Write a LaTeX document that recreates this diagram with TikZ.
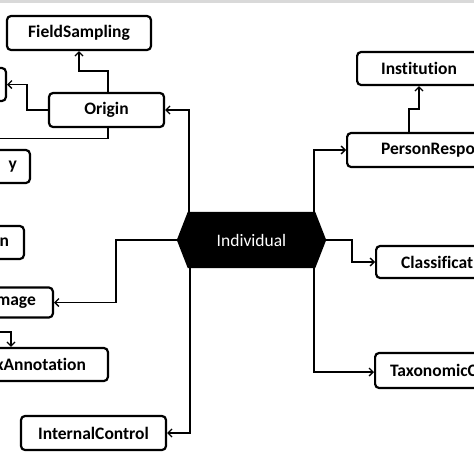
\documentclass[tikz,border=0pt]{standalone}
\usepackage{fontspec}
\setmainfont[Ligatures=NoCommon]{Carlito}
\usetikzlibrary{arrows.meta,calc}
\tikzset{
  box/.style={draw=black, line width=2.2pt, rounded corners=4pt, fill=white,
    font=\fontsize{17.5}{20}\selectfont\bfseries, inner ysep=0pt},
  lbox/.style={box, anchor=east, text width=120pt, align=right},
  rbox/.style={box, anchor=west, text width=150pt, align=left},
  cbox/.style={box, minimum height=34pt},
  conn/.style={draw=black, line width=1.5pt},
  arr/.style={conn, -{Straight Barb[length=4pt,width=8pt,line width=1.3pt]}},
}
\begin{document}
\begin{tikzpicture}[x=1pt,y=-1pt]
\useasboundingbox (0,0) rectangle (474,474);
\clip (0,0) rectangle (474,474);
\fill[black!15] (0,0) rectangle (474,2.5);
% Individual
\node[minimum width=149pt, minimum height=56pt, inner sep=0pt] (ind) at (251.5,240) {};
\fill[black] (ind.west) -- ($(ind.north west)+(11,0)$) -- ($(ind.north east)+(-11,0)$)
  -- (ind.east) -- ($(ind.south east)+(-11,0)$) -- ($(ind.south west)+(11,0)$) -- cycle;
\node[text=white, font=\fontsize{17.5}{20}\selectfont] (indlabel) at (ind.center) {Individual};
% left side
\node[cbox, minimum width=144pt] (fs) at (79,33) {FieldSampling};
\node[cbox, minimum width=115pt] (origin) at (106.5,110) {Origin};
\node[lbox, minimum height=33pt, inner xsep=0pt] (boxa) at (7,84.5) {};
\node[lbox, minimum height=33pt, inner xsep=13pt] (boxy) at (31,166.5) {y};
\node[lbox, minimum height=33pt, inner xsep=15pt] (boxn) at (25,242.5) {n};
\node[lbox, minimum height=30pt, inner xsep=17pt] (mage) at (54,302.5) {mage};
\node[lbox, minimum height=33pt, inner xsep=22pt] (xa) at (109,364.5) {xAnnotation};
\node[cbox, minimum width=145pt] (ic) at (93.5,433) {InternalControl};
% right side
\node[rbox, minimum height=33pt, inner xsep=24pt] (inst) at (356,68.5) {Institution};
\node[rbox, minimum height=34pt, inner xsep=34pt] (pr) at (346,150) {PersonRespo};
\node[rbox, minimum height=32pt, inner xsep=25pt] (cl) at (375,262) {Classificat};
\node[rbox, minimum height=35pt, inner xsep=15pt] (tx) at (374,370.5) {TaxonomicC};
\coordinate (c3) at (-5,138.5);
\coordinate (c10) at (-5,332);
% connectors
\draw[arr] ([xshift=1.5pt]origin.north) -- ++(0,-21) -| (fs.south);
\draw[arr] (origin.west) -- ++(-21,0) |- (boxa.east);
\draw[conn] ([xshift=1.5pt]origin.south) |- (c3);
\draw[arr] ([xshift=-62.5pt]ind.north) |- (origin.east);
\draw[arr] (ind.west) -- ++(-61,0) |- (mage.east);
\draw[arr] ([xshift=-61.5pt]ind.south) |- (ic.east);
\draw[arr] ([xshift=62.5pt]ind.north) |- (pr.west);
\draw[arr] (ind.east) -- ++(26,0) |- (cl.west);
\draw[arr] ([xshift=62.5pt]ind.south) |- ([yshift=-1.5pt]tx.west);
\draw[arr] (c10) -| ([xshift=-98pt]xa.north east);
\draw[arr] ([xshift=63pt]pr.north west) -- ++(0,-23) -| ([xshift=63pt]inst.south west);
\end{tikzpicture}
\end{document}
